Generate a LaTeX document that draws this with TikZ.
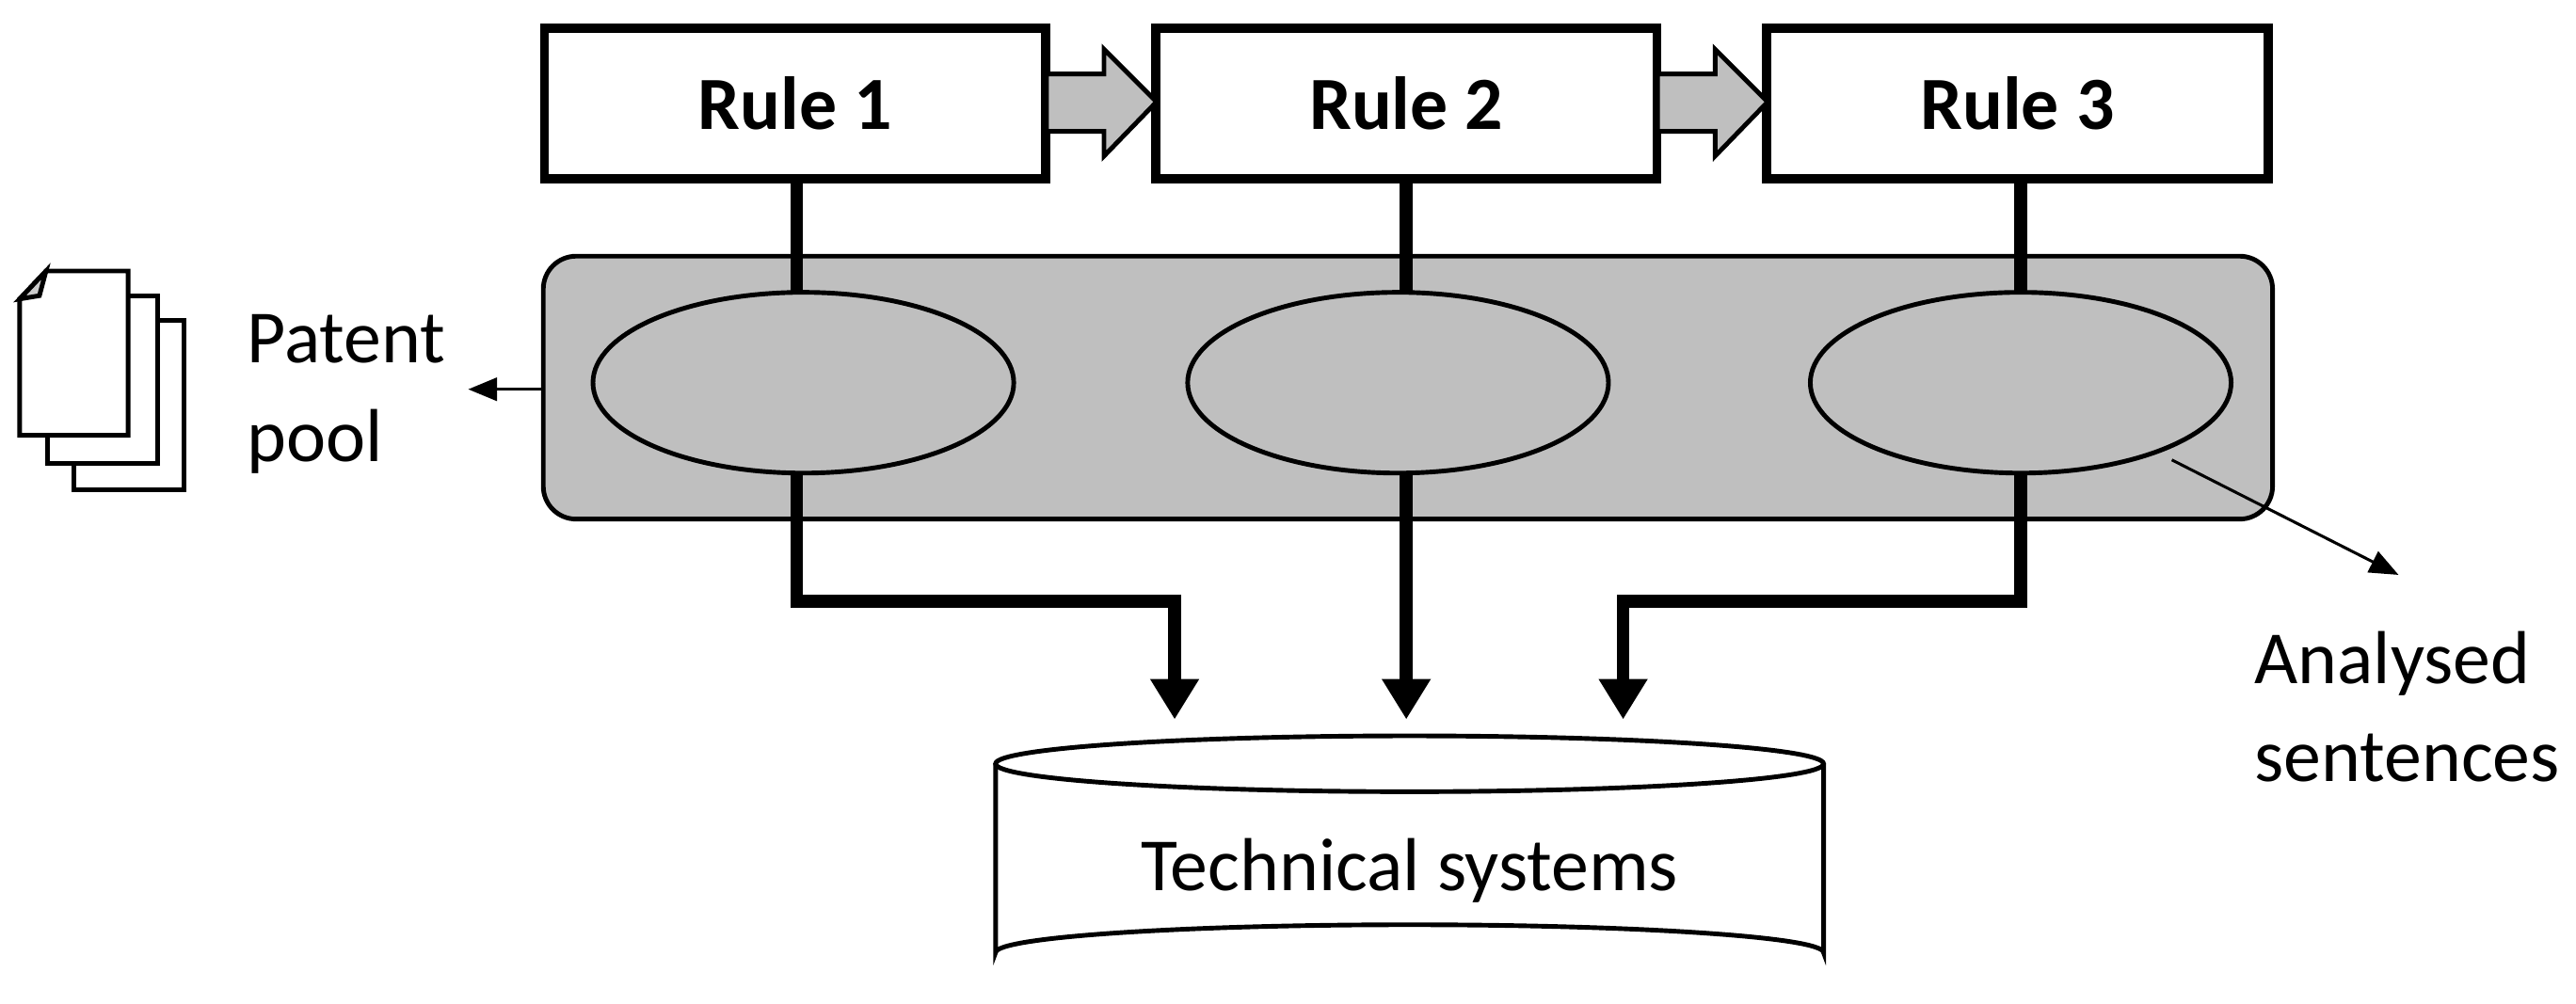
\documentclass[tikz,border=0pt]{standalone}
\usepackage{fontspec}
\setmainfont{Carlito}
\usetikzlibrary{arrows.meta,shapes.geometric}
\begin{document}
\begin{tikzpicture}[x=0.01cm,y=-0.01cm,
  rule/.style={draw,line width=1.6pt,fill=white,minimum width=3.05cm,minimum height=0.92cm,font=\fontsize{13}{15}\selectfont\bfseries},
  ell/.style={draw,line width=0.8pt,ellipse,minimum width=2.56cm,minimum height=1.1cm},
  conn/.style={line width=2.2pt},
  flow/.style={conn,-{Triangle[length=7pt,width=8pt]}},
  thin/.style={line width=0.5pt,-{Triangle[length=5pt,width=4pt]}},
  lbl/.style={font=\fontsize{13}{15}\selectfont,align=left}]
\useasboundingbox (0,0) rectangle (1568,611);
% pool
\node[draw,line width=0.8pt,fill=gray!50,rounded corners=0.2cm,minimum width=10.52cm,minimum height=1.6cm] (pool) at (857,236) {};
% rules
\node[rule] (r1) at (484,63) {Rule 1};
\node[rule] (r2) at (856,63) {Rule 2};
\node[rule] (r3) at (1228,63) {Rule 3};
% block arrows
\foreach \a in {637,1009}{
 \draw[line width=0.8pt,fill=gray!50] (\a,45) -- (\a+35,45) -- (\a+35,30) -- (\a+67,62) -- (\a+35,95) -- (\a+35,80) -- (\a,80) -- cycle;}
% ellipses
\node[ell] (e1) at (489,233) {};
\node[ell] (e2) at (851,233) {};
\node[ell] (e3) at (1230,233) {};
\draw[conn] (485,110) -- (485,179);
\draw[conn] (856,110) -- (856,179);
\draw[conn] (1230,110) -- (1230,179);
% cylinder
\draw[line width=0.8pt,fill=white] (606,465) -- (606,580) arc[start angle=180,end angle=360,x radius=252,y radius=17] -- (1110,465);
\draw[line width=0.8pt,fill=white] (858,465) ellipse[x radius=252,y radius=17];
\node[font=\fontsize{13}{15}\selectfont] (db) at (858,530) {Technical systems};
\coordinate (d1) at (715,438);
\coordinate (d2) at (856,438);
\coordinate (d3) at (988,438);
\draw[flow] (485,288) |- (715,366) -- (d1);
\draw[flow] (856,288) -- (d2);
\draw[flow] (1230,288) |- (988,366) -- (d3);
% patent pool
\node[lbl,anchor=west] (pp) at (138,240) {Patent\\[2pt]pool};
\draw[thin] (331,237) -- (285,237);
% documents
\draw[line width=0.8pt,fill=white] (45,195) rectangle (112,298);
\draw[line width=0.8pt,fill=white] (29,180) rectangle (96,282);
\draw[line width=0.8pt,fill=white] (28,165) -- (78,165) -- (78,265) -- (12,265) -- (12,182) -- cycle;
\draw[line width=0.8pt,fill=gray!40] (28,165) -- (24,180) -- (12,182) -- cycle;
% analysed sentences
\node[lbl,anchor=north west] (as) at (1360,372) {Analysed\\[2pt]sentences};
\coordinate (as0) at (1322,280);
\draw[thin] (as0) -- (1460,350);
\end{tikzpicture}
\end{document}
